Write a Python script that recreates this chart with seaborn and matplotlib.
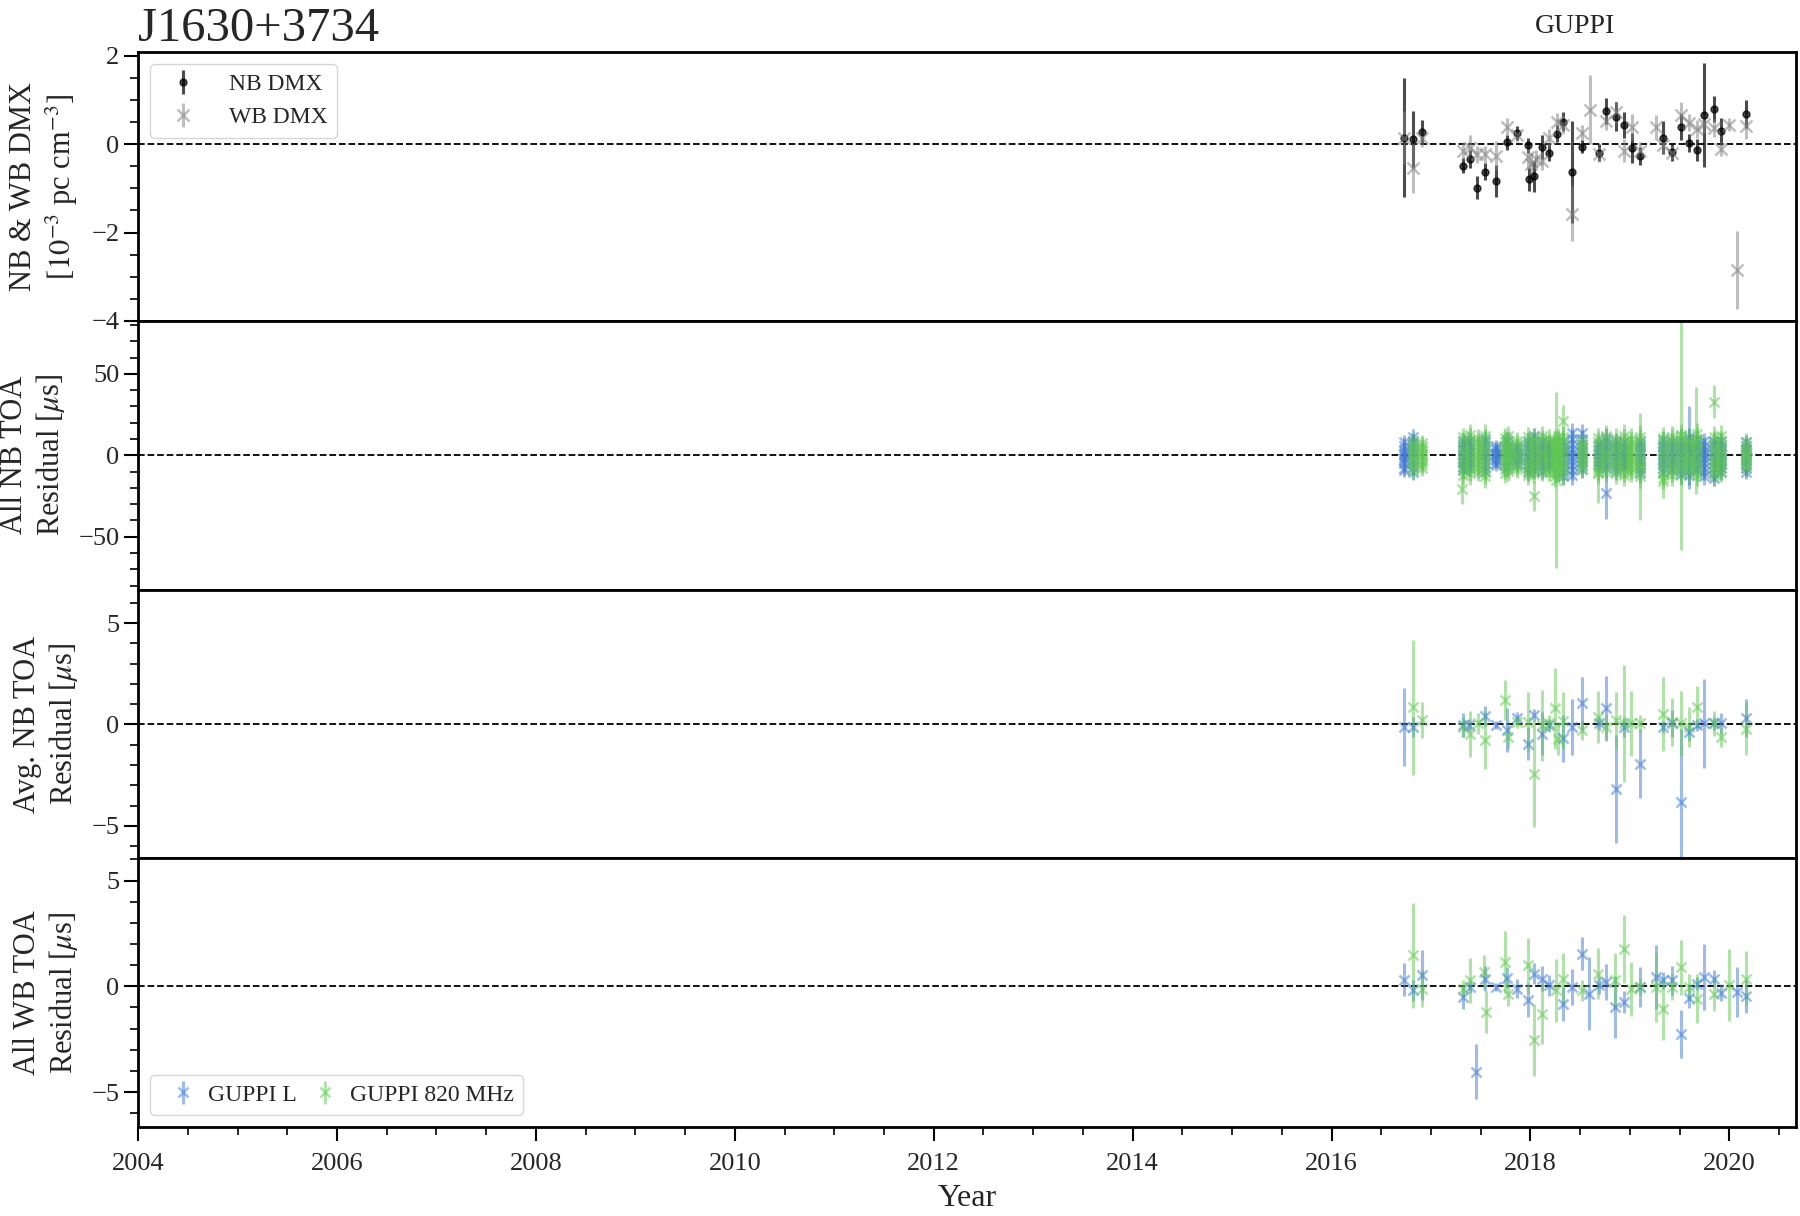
import matplotlib.pyplot as plt
import numpy as np
import seaborn as sns
from matplotlib.ticker import MultipleLocator


PSR_NAME = "J1630+3734"
BACKEND_LABEL = "GUPPI"
BACKEND_MID_YEAR = 2018.45

COLOR_L = "#407BD5"
COLOR_820 = "#61C853"

# --- DMX, units of 1e-3 pc cm^-3 ---
nb_dmx_year = [2016.73, 2016.82, 2016.91, 2017.32, 2017.39, 2017.46, 2017.54, 2017.65, 2017.76,
               2017.86, 2017.98, 2017.99, 2018.04, 2018.12, 2018.19, 2018.27, 2018.33, 2018.42,
               2018.52, 2018.69, 2018.76, 2018.86, 2018.94, 2019.02, 2019.10, 2019.33, 2019.42,
               2019.51, 2019.59, 2019.67, 2019.74, 2019.85, 2019.92, 2020.17]
nb_dmx_val = [0.15, 0.11, 0.28, -0.49, -0.34, -0.98, -0.62, -0.83, 0.04,
              0.25, -0.02, -0.79, -0.73, -0.06, -0.19, 0.24, 0.51, -0.63,
              -0.06, -0.19, 0.75, 0.62, 0.44, -0.09, -0.26, 0.15, -0.17,
              0.39, 0.02, -0.13, 0.66, 0.80, 0.29, 0.68]
nb_dmx_err = [1.35, 0.65, 0.26, 0.17, 0.20, 0.25, 0.20, 0.37, 0.16,
              0.16, 0.17, 0.26, 0.36, 0.27, 0.19, 0.19, 0.21, 1.15,
              0.15, 0.19, 0.29, 0.33, 0.30, 0.34, 0.20, 0.38, 0.20,
              0.30, 0.20, 0.25, 1.18, 0.29, 0.30, 0.32]

wb_dmx_year = [2016.73, 2016.82, 2016.91, 2017.32, 2017.39, 2017.46, 2017.54, 2017.65, 2017.76,
               2017.86, 2017.98, 2018.01, 2018.06, 2018.12, 2018.19, 2018.27, 2018.33, 2018.42,
               2018.52, 2018.60, 2018.69, 2018.76, 2018.86, 2018.94, 2019.02, 2019.10, 2019.26,
               2019.33, 2019.42, 2019.51, 2019.59, 2019.67, 2019.74, 2019.85, 2019.92, 2020.00,
               2020.08, 2020.17]
wb_dmx_val = [0.15, -0.53, 0.14, -0.15, -0.08, -0.23, -0.23, -0.26, 0.40,
              0.21, -0.30, -0.44, -0.34, -0.38, 0.15, 0.50, 0.44, -1.57,
              0.26, 0.78, -0.23, 0.53, 0.72, -0.15, 0.39, -0.15, 0.38,
              -0.02, -0.19, 0.66, 0.49, 0.34, 0.45, 0.36, -0.11, 0.44,
              -2.85, 0.41]
wb_dmx_err = [0.60, 0.57, 0.20, 0.19, 0.28, 0.20, 0.20, 0.33, 0.20,
              0.15, 0.25, 0.25, 0.20, 0.20, 0.20, 0.20, 0.20, 0.63,
              0.17, 0.78, 0.17, 0.20, 0.25, 0.26, 0.30, 0.20, 0.28,
              0.20, 0.15, 0.29, 0.20, 0.20, 0.20, 0.20, 0.15, 0.15,
              0.88, 0.30]

# --- all narrowband TOA residuals (us), grouped by observing epoch ---
all_l_year = [2016.73, 2016.82, 2017.32, 2017.38, 2017.54, 2017.65, 2017.76, 2017.86, 2017.97,
              2018.04, 2018.12, 2018.19, 2018.33, 2018.42, 2018.52, 2018.69, 2018.76, 2018.86,
              2018.94, 2019.10, 2019.33, 2019.42, 2019.51, 2019.59, 2019.67, 2019.74, 2019.85,
              2019.92, 2020.17]
all_l_res = [
    [-9.0, -7.5, -5.0, -3.0, -1.5, 0.0, 1.5, 3.5, 6.0, 8.0],
    [-10.0, -7.0, -4.5, -2.0, 0.5, 2.5, 4.5, 7.0, 9.0, 11.0],
    [-9.0, -7.0, -5.0, -3.0, -1.0, 1.0, 3.0, 5.0, 7.0, 8.5],
    [-8.0, -6.0, -4.0, -2.0, 0.0, 1.5, 3.5, 5.5, 7.0, 9.0],
    [-9.5, -7.0, -4.5, -2.5, -0.5, 1.5, 3.5, 6.0, 8.0, 10.0],
    [-6.0, -4.5, -3.0, -2.0, -0.5, 0.5, 1.5, 3.0, 4.5, 6.0],
    [-8.0, -6.0, -3.5, -1.5, 0.5, 2.0, 4.0, 6.0, 8.0, 9.5],
    [-6.0, -4.5, -3.0, -1.5, -0.5, 0.5, 1.5, 3.0, 4.5, 6.0],
    [-10.5, -8.0, -5.5, -3.0, -1.0, 1.0, 3.0, 5.0, 7.0, 9.0],
    [-9.0, -6.5, -4.0, -2.0, 0.0, 2.0, 4.0, 6.5, 9.0, 12.0],
    [-9.5, -7.0, -5.0, -3.0, -1.0, 1.0, 3.0, 5.0, 7.0, 9.0],
    [-7.0, -5.5, -3.5, -2.0, -0.5, 1.0, 2.5, 4.0, 5.5, 7.5],
    [-13.0, -10.0, -7.0, -4.5, -2.0, 0.0, 2.0, 4.0, 6.0, 8.0],
    [-12.0, -9.0, -6.0, -3.5, -1.0, 1.5, 4.0, 7.0, 10.0, 14.0],
    [-8.5, -6.0, -3.5, -1.5, 0.5, 2.5, 4.5, 7.0, 10.0, 13.5],
    [-7.0, -5.0, -3.5, -2.0, -0.5, 1.0, 2.5, 4.0, 5.5, 7.0],
    [-8.0, -6.0, -3.5, -1.5, 0.5, 2.5, 4.5, 6.5, 8.5, 10.5],
    [-9.5, -7.0, -5.0, -3.0, -1.0, 1.0, 3.0, 5.0, 7.0, 8.5],
    [-8.0, -6.0, -4.0, -2.5, -1.0, 0.5, 2.0, 4.0, 6.0, 8.0],
    [-11.0, -8.5, -6.0, -3.5, -1.5, 0.5, 2.5, 5.0, 7.0, 9.0],
    [-10.5, -8.0, -5.5, -3.5, -1.5, 0.5, 2.5, 5.0, 7.0, 9.5],
    [-9.0, -7.0, -5.0, -3.0, -1.0, 1.0, 3.0, 5.0, 7.0, 8.5],
    [-11.5, -9.0, -6.5, -4.0, -1.5, 0.5, 2.5, 5.0, 7.0, 9.5],
    [-12.0, -9.0, -6.5, -4.0, -1.5, 1.0, 3.5, 6.0, 8.5, 11.0],
    [-9.0, -7.0, -4.5, -2.5, -0.5, 1.5, 3.5, 5.5, 7.5, 10.0],
    [-13.0, -10.0, -7.5, -5.0, -2.5, -0.5, 1.5, 3.5, 6.0, 8.5],
    [-14.0, -11.0, -8.0, -5.0, -2.5, 0.0, 2.5, 5.0, 7.0, 9.0],
    [-10.0, -8.0, -5.5, -3.5, -1.5, 0.5, 2.5, 4.5, 6.5, 8.5],
    [-10.0, -8.0, -5.5, -3.5, -1.5, 0.0, 2.0, 4.0, 6.0, 8.0],
]
all_l_err = [4.5, 5.0, 5.0, 5.0, 5.0, 3.5, 5.0, 3.5, 5.0,
             5.0, 5.0, 4.5, 5.0, 6.0, 5.5, 4.5, 6.0, 5.0,
             4.5, 5.0, 5.0, 5.0, 6.0, 6.0, 5.0, 5.0, 5.0,
             5.0, 4.5]
extra_l_year = [2018.76, 2019.59]
extra_l_res = [-23.0, 4.5]
extra_l_err = [16.0, 25.5]

all_820_year = [2016.82, 2016.91, 2017.32, 2017.39, 2017.47, 2017.54, 2017.74, 2017.77, 2017.86,
                2017.98, 2018.04, 2018.12, 2018.19, 2018.25, 2018.28, 2018.33, 2018.52, 2018.68,
                2018.76, 2018.86, 2018.94, 2019.01, 2019.10, 2019.33, 2019.42, 2019.51, 2019.59,
                2019.67, 2019.85, 2019.92, 2020.17]
all_820_res = [
    [-9.0, -7.0, -5.0, -3.0, -1.0, 1.0, 3.0, 5.0, 7.0, 8.5],
    [-8.0, -6.0, -4.0, -2.0, -0.5, 1.0, 2.5, 4.5, 6.0, 7.5],
    [-12.0, -9.0, -6.5, -4.0, -1.5, 1.0, 3.5, 6.0, 8.5, 11.0],
    [-11.0, -8.5, -6.0, -3.5, -1.0, 1.5, 4.0, 7.0, 9.5, 12.5],
    [-10.0, -8.0, -5.5, -3.0, -1.0, 1.0, 3.5, 6.0, 8.0, 10.0],
    [-13.0, -10.0, -7.0, -4.5, -2.0, 0.5, 3.0, 6.0, 9.0, 12.0],
    [-11.0, -8.5, -6.0, -3.5, -1.5, 0.5, 3.0, 5.5, 8.0, 10.5],
    [-9.5, -7.0, -4.5, -2.5, -0.5, 1.5, 4.0, 6.5, 9.0, 12.0],
    [-8.5, -6.5, -4.5, -2.5, -1.0, 0.5, 2.5, 4.5, 7.0, 9.0],
    [-12.0, -9.5, -7.0, -4.5, -2.0, 0.5, 3.0, 5.5, 8.0, 11.0],
    [-11.0, -8.5, -6.0, -3.5, -1.0, 1.5, 4.0, 6.5, 8.5, 10.5],
    [-10.0, -7.5, -5.0, -2.5, -0.5, 1.5, 4.0, 7.0, 9.5, 12.0],
    [-10.0, -7.5, -5.0, -3.0, -1.0, 1.0, 3.0, 5.5, 8.0, 10.0],
    [-13.0, -10.0, -7.5, -5.0, -2.5, 0.0, 2.5, 5.0, 7.0, 9.0],
    [-10.0, -7.5, -5.0, -3.0, -0.5, 1.5, 4.0, 6.5, 9.0, 11.0],
    [-12.0, -9.5, -7.0, -4.5, -2.0, 0.5, 3.0, 6.0, 8.5, 11.5],
    [-8.5, -6.5, -4.5, -2.5, -1.0, 0.5, 2.5, 4.5, 6.5, 8.5],
    [-11.0, -8.5, -6.0, -3.5, -1.5, 0.5, 3.0, 5.5, 8.0, 10.5],
    [-10.0, -7.5, -5.0, -3.0, -0.5, 1.5, 4.0, 7.0, 9.5, 12.0],
    [-11.0, -8.5, -6.0, -4.0, -2.0, 0.5, 2.5, 5.0, 7.5, 10.0],
    [-12.0, -9.5, -7.0, -4.5, -2.0, 0.5, 3.5, 6.0, 9.0, 12.0],
    [-10.0, -8.0, -5.5, -3.0, -1.0, 1.0, 3.5, 6.0, 8.0, 10.0],
    [-13.0, -10.0, -7.0, -4.5, -2.0, 0.5, 3.0, 6.0, 9.0, 11.5],
    [-14.0, -11.0, -8.0, -5.0, -2.5, 0.0, 2.5, 5.0, 8.0, 10.5],
    [-12.0, -9.5, -7.0, -4.5, -2.0, 0.5, 3.5, 6.5, 9.0, 11.0],
    [-11.0, -8.5, -6.0, -3.5, -1.0, 1.5, 4.0, 7.0, 9.5, 12.0],
    [-10.0, -8.0, -5.5, -3.5, -1.5, 0.5, 3.0, 5.5, 8.0, 10.0],
    [-12.0, -9.5, -7.0, -4.5, -2.0, 0.5, 3.5, 6.5, 9.5, 13.0],
    [-12.0, -9.5, -7.0, -4.5, -2.0, 0.5, 3.0, 5.5, 8.0, 11.0],
    [-10.0, -8.0, -5.5, -3.5, -1.5, 0.5, 3.0, 5.5, 8.5, 12.0],
    [-8.0, -6.5, -4.5, -2.5, -1.0, 0.5, 2.0, 4.0, 6.0, 8.0],
]
all_820_err = [5.5, 5.0, 6.0, 7.0, 6.0, 7.0, 6.0, 6.0, 5.5,
               6.5, 6.0, 6.0, 6.0, 6.5, 6.0, 6.5, 5.5, 6.5,
               6.5, 6.5, 7.0, 6.5, 7.0, 7.0, 7.0, 7.0, 6.5,
               7.0, 7.0, 6.5, 5.5]
extra_820_year = [2017.31, 2018.04, 2018.26, 2018.33, 2018.68, 2019.10, 2019.33, 2019.51, 2019.66, 2019.85]
extra_820_res = [-21.0, -25.0, -15.0, 21.0, -10.0, -7.0, -16.0, 12.5, 9.0, 33.0]
extra_820_err = [9.0, 9.0, 54.0, 10.0, 19.0, 33.0, 10.0, 70.5, 33.0, 10.0]

# --- epoch-averaged narrowband residuals (us) ---
avg_l_year = all_l_year
avg_l_res = [-0.12, -0.12, -0.03, -0.03, 0.41, -0.03, -0.28, 0.30, -0.94,
             0.46, -0.45, -0.03, -0.69, -0.12, 1.04, 0.05, 0.79, -3.20,
             -0.12, -1.93, -0.12, 0.05, -3.80, -0.36, -0.03, 0.05, 0.05,
             0.05, 0.33]
avg_l_err = [1.94, 0.50, 0.58, 0.30, 0.50, 0.20, 1.10, 0.30, 0.80,
             0.30, 1.07, 0.30, 1.15, 1.38, 1.30, 0.30, 1.62, 2.66,
             0.50, 1.70, 0.30, 0.66, 3.60, 0.45, 0.30, 2.20, 0.30,
             0.50, 0.95]

avg_820_year = all_820_year
avg_820_res = [0.84, 0.21, -0.12, -0.48, 0.05, -0.78, 1.20, -0.60, 0.13,
               0.13, -2.43, -0.03, 0.05, 0.79, -0.70, 0.18, -0.28, 0.38,
               -0.12, 0.21, 0.05, 0.05, 0.05, 0.51, 0.13, 0.05, -0.12,
               0.87, 0.05, -0.60, -0.20]
avg_820_err = [3.34, 0.90, 0.50, 1.14, 0.50, 1.44, 1.00, 0.60, 0.30,
               1.48, 2.65, 1.75, 0.40, 2.00, 0.80, 1.40, 0.50, 1.28,
               0.60, 1.40, 2.88, 1.60, 0.40, 1.84, 1.20, 1.60, 1.00,
               1.05, 0.60, 0.50, 1.30]

# --- wideband residuals (us) ---
wb_l_year = [2016.73, 2016.82, 2016.91, 2017.32, 2017.39, 2017.45, 2017.54, 2017.65, 2017.76,
             2017.86, 2017.97, 2018.04, 2018.12, 2018.19, 2018.33, 2018.42, 2018.52, 2018.59,
             2018.69, 2018.76, 2018.85, 2018.94, 2019.10, 2019.26, 2019.33, 2019.42, 2019.51,
             2019.59, 2019.67, 2019.74, 2019.85, 2019.92, 2020.08, 2020.17]
wb_l_res = [0.31, -0.19, 0.52, -0.50, -0.03, -4.03, 0.36, -0.03, 0.41,
            -0.11, -0.66, 0.60, 0.36, 0.05, -0.85, -0.03, 1.54, -0.35,
            0.05, 0.20, -0.97, -0.74, -0.03, 0.44, 0.28, 0.28, -2.26,
            -0.53, 0.13, 0.44, 0.36, -0.31, -0.27, -0.47]
wb_l_err = [0.78, 0.50, 1.18, 0.55, 0.30, 1.28, 0.60, 0.20, 0.50,
            0.45, 0.80, 0.50, 0.60, 0.50, 0.80, 0.85, 0.78, 1.73,
            0.40, 0.85, 1.45, 0.50, 0.96, 1.50, 0.40, 0.70, 1.15,
            0.50, 0.30, 1.58, 0.40, 0.40, 1.16, 0.78]

wb_820_year = [2016.82, 2016.91, 2017.32, 2017.39, 2017.53, 2017.55, 2017.74, 2017.77, 2017.98,
               2018.04, 2018.12, 2018.26, 2018.33, 2018.52, 2018.68, 2018.85, 2018.94, 2019.01,
               2019.10, 2019.26, 2019.33, 2019.42, 2019.51, 2019.59, 2019.67, 2019.85, 2020.00,
               2020.17]
wb_820_res = [1.46, -0.11, -0.11, 0.28, 0.68, -1.21, 1.15, -0.35, 1.00,
              -2.54, -1.29, -0.19, 0.36, -0.19, 0.60, 0.28, 1.77, -0.11,
              -0.03, -0.03, -1.05, -0.03, 0.91, -0.03, -0.58, -0.35, 0.05,
              0.36]
wb_820_err = [2.50, 0.86, 0.40, 1.06, 0.80, 1.00, 1.45, 0.60, 1.30,
              1.72, 1.45, 1.50, 1.20, 0.50, 1.20, 1.30, 1.60, 1.28,
              0.40, 1.65, 1.50, 0.60, 1.30, 0.60, 1.15, 0.80, 1.70,
              1.30]


def flatten_epochs(years, groups, errs, extra_years, extra_res, extra_errs):
    x, y, e = [], [], []
    for year, group, err in zip(years, groups, errs):
        x.extend([year] * len(group))
        y.extend(group)
        e.extend([err] * len(group))
    x.extend(extra_years)
    y.extend(extra_res)
    e.extend(extra_errs)
    return np.array(x), np.array(y), np.array(e)


def style_axis(ax, ylim, major, minor, ylabel):
    ax.set_ylim(*ylim)
    ax.yaxis.set_major_locator(MultipleLocator(major))
    ax.yaxis.set_minor_locator(MultipleLocator(minor))
    ax.axhline(0, color="black", linestyle="--", linewidth=1.3, zorder=0)
    ax.set_ylabel(ylabel, fontsize=22, labelpad=8)
    for spine in ax.spines.values():
        spine.set_visible(True)
        spine.set_linewidth(2.0)
        spine.set_color("black")


def main() -> None:
    sns.set_style("ticks")
    plt.rcParams["font.family"] = ["Liberation Serif", "DejaVu Serif"]
    plt.rcParams["mathtext.fontset"] = "stix"

    fig, axes = plt.subplots(4, 1, sharex=True, figsize=(18, 12.16), dpi=100)
    fig.subplots_adjust(left=0.0767, right=0.9978, top=0.957, bottom=0.0732, hspace=0)
    ax_dmx, ax_all, ax_avg, ax_wb = axes

    toa_kw = dict(fmt="x", markersize=7, mew=1.8, elinewidth=2.2, capsize=0, alpha=0.5)

    # DMX panel
    nb = ax_dmx.errorbar(nb_dmx_year, nb_dmx_val, yerr=nb_dmx_err, fmt="o", color="black",
                         markersize=5, elinewidth=2.2, capsize=0, alpha=0.7, label="NB DMX")
    wb = ax_dmx.errorbar(wb_dmx_year, wb_dmx_val, yerr=wb_dmx_err, fmt="x", color="gray",
                         markersize=8, mew=1.8, elinewidth=2.2, capsize=0, alpha=0.5,
                         label="WB DMX")
    style_axis(ax_dmx, (-4.0, 2.08), 2, 0.5, "NB & WB DMX\n[$10^{-3}$ pc cm$^{-3}$]")
    ax_dmx.legend(handles=[nb, wb], loc="upper left", fontsize=17, framealpha=0.8,
                  handletextpad=0.95)
    ax_dmx.set_title(PSR_NAME, loc="left", fontsize=35, pad=8)
    ax_dmx.text(BACKEND_MID_YEAR, 1.07, BACKEND_LABEL, fontsize=20, ha="center",
                va="baseline", transform=ax_dmx.get_xaxis_transform())

    # all NB residuals
    x, y, e = flatten_epochs(all_l_year, all_l_res, all_l_err, extra_l_year, extra_l_res, extra_l_err)
    ax_all.errorbar(x, y, yerr=e, color=COLOR_L, **toa_kw)
    x, y, e = flatten_epochs(all_820_year, all_820_res, all_820_err,
                             extra_820_year, extra_820_res, extra_820_err)
    ax_all.errorbar(x, y, yerr=e, color=COLOR_820, **toa_kw)
    style_axis(ax_all, (-82.5, 82.5), 50, 10, "All NB TOA\nResidual [$\\mu$s]")

    # averaged NB residuals
    ax_avg.errorbar(avg_l_year, avg_l_res, yerr=avg_l_err, color=COLOR_L, **toa_kw)
    ax_avg.errorbar(avg_820_year, avg_820_res, yerr=avg_820_err, color=COLOR_820, **toa_kw)
    style_axis(ax_avg, (-6.6, 6.65), 5, 1, "Avg. NB TOA\nResidual [$\\mu$s]")

    # WB residuals
    l_h = ax_wb.errorbar(wb_l_year, wb_l_res, yerr=wb_l_err, color=COLOR_L,
                         label="GUPPI L", **toa_kw)
    h_820 = ax_wb.errorbar(wb_820_year, wb_820_res, yerr=wb_820_err, color=COLOR_820,
                           label="GUPPI 820 MHz", **toa_kw)
    style_axis(ax_wb, (-6.65, 6.05), 5, 1, "All WB TOA\nResidual [$\\mu$s]")
    ax_wb.legend(handles=[l_h, h_820], loc="lower left", ncol=2, fontsize=17, framealpha=0.8,
                 handletextpad=0.05, columnspacing=0.2)

    ax_wb.set_xlim(2004, 2020.67)
    ax_wb.xaxis.set_major_locator(MultipleLocator(2))
    ax_wb.xaxis.set_minor_locator(MultipleLocator(0.5))
    ax_wb.set_xlabel("Year", fontsize=23, labelpad=6)

    for ax in axes:
        ax.tick_params(axis="both", which="major", direction="out", length=10, width=1.5,
                       labelsize=19, color="black", left=True, bottom=True)
        ax.tick_params(axis="both", which="minor", direction="out", length=5.5, width=1.2,
                       color="black", left=True, bottom=True)
    ax_wb.tick_params(axis="x", which="major", pad=9)
    for ax in axes[:-1]:
        ax.tick_params(axis="x", which="both", bottom=False, labelbottom=False)

    fig.savefig("out.png", dpi=100)
    plt.close(fig)


if __name__ == "__main__":
    main()
